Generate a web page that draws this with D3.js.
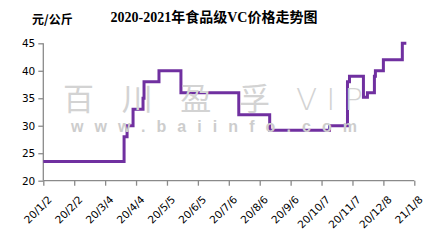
<!DOCTYPE html>
<html>
<head>
<meta charset="utf-8">
<script src="https://cdn.jsdelivr.net/npm/d3@7"></script>
<style>
  body { margin: 0; background: #fff; }
  svg text { font-family: "DejaVu Sans", sans-serif; }
</style>
</head>
<body>
<div id="viz"></div>
<script>
// step points: date the price changed, price in 元/公斤
var dates = ["2020-01-02","2020-03-23","2020-03-26","2020-04-01","2020-04-11","2020-04-12",
             "2020-04-27","2020-05-19","2020-07-16","2020-08-16","2020-10-15","2020-11-02",
             "2020-11-04","2020-11-18","2020-11-22","2020-11-29","2020-11-30","2020-12-08",
             "2020-12-27","2020-12-31"];
var prices = [23.5, 28, 30, 33, 35, 38,
              40, 36, 32, 29.2, 30, 38,
              39, 35.2, 36, 39, 40, 42,
              45, 45];
var tickDates = ["2020-01-02","2020-02-02","2020-03-04","2020-04-04","2020-05-05","2020-06-05",
                 "2020-07-06","2020-08-06","2020-09-06","2020-10-07","2020-11-07","2020-12-08","2021-01-08"];
var tickLabels = ["20/1/2","20/2/2","20/3/4","20/4/4","20/5/5","20/6/5","20/7/6",
                  "20/8/6","20/9/6","20/10/7","20/11/7","20/12/8","21/1/8"];
var yTicks = [20, 25, 30, 35, 40, 45];

var W = 427, H = 240,
    margin = {top: 43.3, right: 12.7, bottom: 59.3, left: 43.3},
    width = W - margin.left - margin.right,
    height = H - margin.top - margin.bottom;

var parse = d3.timeParse("%Y-%m-%d");
var data = dates.map(function(d, i){ return {date: parse(d), value: prices[i]}; });

var svg = d3.select("#viz").append("svg")
    .attr("width", W)
    .attr("height", H);

var g = svg.append("g")
    .attr("transform", "translate(" + margin.left + "," + margin.top + ")");

var x = d3.scaleTime()
    .domain([parse("2020-01-02"), parse("2021-01-08")])
    .range([0, width]);
var y = d3.scaleLinear()
    .domain([20, 45])
    .range([height, 0]);

// watermark
var wm = svg.append("g").attr("fill", "#d3d3d3");
wm.append("text")
    .attr("x", 63).attr("y", 110)
    .attr("textLength", 207).attr("lengthAdjust", "spacing")
    .style("font-family", "'Noto Sans CJK SC', sans-serif")
    .style("font-size", "31px")
    .text("百川盈孚");
wm.append("text")
    .attr("x", 296).attr("y", 110)
    .attr("textLength", 67).attr("lengthAdjust", "spacing")
    .style("font-family", "'DejaVu Sans', sans-serif")
    .style("font-size", "31px")
    .style("font-weight", 300)
    .text("VIP");
wm.append("text")
    .attr("x", 71).attr("y", 132)
    .attr("textLength", 286).attr("lengthAdjust", "spacing")
    .style("font-family", "'Liberation Sans', sans-serif")
    .style("font-size", "16px")
    .style("font-weight", "bold")
    .attr("fill", "#cdcdcd")
    .text("www.baiinfo.com");

// axes
var yAxis = g.append("g")
    .call(d3.axisLeft(y).tickValues(yTicks).tickSize(5).tickPadding(3));
var xAxis = g.append("g")
    .attr("transform", "translate(0," + height + ")")
    .call(d3.axisBottom(x).tickValues(tickDates.map(parse)).tickSize(5)
        .tickFormat(function(d, i){ return tickLabels[i]; }));

[yAxis, xAxis].forEach(function(a){
    a.select(".domain").attr("stroke", "#8a8a8a").attr("stroke-width", 1.3);
    a.selectAll(".tick line").attr("stroke", "#8a8a8a").attr("stroke-width", 1.3);
    a.selectAll("text").attr("fill", "#000").style("font-size", "10.5px");
});
yAxis.select(".domain").attr("d", "M0,0V" + height);
xAxis.select(".domain").attr("d", "M0,0H" + width);

xAxis.selectAll("text")
    .attr("text-anchor", "end")
    .attr("transform", "translate(6,17) rotate(-45)")
    .attr("dy", "0.35em")
    .attr("y", 0);

// price line
var line = d3.line()
    .x(function(d){ return x(d.date); })
    .y(function(d){ return y(d.value); })
    .curve(d3.curveStepAfter);

g.append("path")
    .datum(data)
    .attr("fill", "none")
    .attr("stroke", "#7030a0")
    .attr("stroke-width", 3)
    .attr("d", line);

// titles
svg.append("text")
    .attr("x", 32).attr("y", 24)
    .style("font-family", "'Noto Sans CJK SC', sans-serif")
    .style("font-size", "12px")
    .style("font-weight", "bold")
    .text("元/公斤");
svg.append("text")
    .attr("x", 214).attr("y", 22)
    .attr("text-anchor", "middle")
    .style("font-family", "'Liberation Serif', 'Noto Sans CJK SC', serif")
    .style("font-size", "14px")
    .style("font-weight", "bold")
    .text("2020-2021年食品级VC价格走势图");
</script>
</body>
</html>
